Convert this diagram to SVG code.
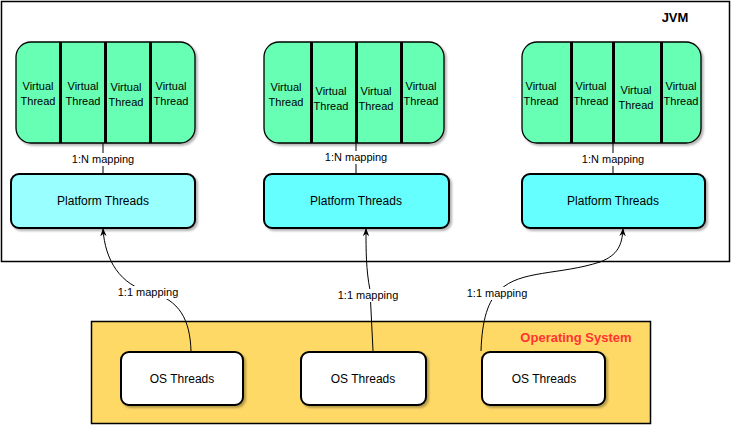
<svg xmlns="http://www.w3.org/2000/svg" width="732" height="427" viewBox="0 0 732 427">
<style>
text{font-family:"Liberation Sans",Arial,sans-serif;fill:#000;text-anchor:middle}
.vt{font-size:11px}
.vg{fill:#66FFB3;stroke:#000;stroke-width:1.3}
.dv{stroke:#000;stroke-width:3}
.pt{stroke:#000;stroke-width:2}
.os{fill:#fff;stroke:#000;stroke-width:2}
.lbl{font-size:11px}
.c{fill:none;stroke:#000;stroke-width:1}
.lb{fill:#fff}
</style>
<defs>
<marker id="ah" viewBox="0 0 10 10" refX="9" refY="5" markerWidth="8" markerHeight="8" orient="auto"><path d="M0,1 L10,5 L0,9 L3,5 Z" fill="#000"/></marker>
<filter id="sh"><feDropShadow dx="2" dy="2" stdDeviation="1.2" flood-opacity="0.3"/></filter>
</defs>
<g id="jvm"><rect x="1.5" y="1.5" width="728" height="260" fill="#fff" stroke="#000" stroke-width="1.5"/><text x="675" y="22" font-size="13" font-weight="bold">JVM</text></g>
<g id="os-system"><rect x="91.5" y="321.5" width="559" height="102" fill="#FFD966" stroke="#000" stroke-width="1.5"/><text x="576" y="342" font-size="13" font-weight="bold" style="fill:#FF3333">Operating System</text></g>
<g id="connectors">
<line class="c" x1="103" y1="143" x2="103" y2="173"/><rect class="lb" x="66" y="153" width="74" height="13"/><text class="lbl" x="103" y="163">1:N mapping</text>
<line class="c" x1="356" y1="143" x2="356" y2="173"/><rect class="lb" x="319" y="151" width="74" height="13"/><text class="lbl" x="356" y="161">1:N mapping</text>
<line class="c" x1="613" y1="143" x2="613" y2="173"/><rect class="lb" x="576" y="153" width="74" height="13"/><text class="lbl" x="613" y="163">1:N mapping</text>
<path class="c" marker-end="url(#ah)" d="M191,351 C190,320 180,300 150,292 C120,285 105,260 103,229"/>
<rect class="lb" x="110" y="286" width="76" height="13"/><text class="lbl" x="148" y="296">1:1 mapping</text>
<path class="c" marker-end="url(#ah)" d="M373,351 L370,290 C366,270 366,250 366,229"/>
<rect class="lb" x="331" y="289" width="76" height="13"/><text class="lbl" x="368" y="299">1:1 mapping</text>
<path class="c" marker-end="url(#ah)" d="M481,351 C482,320 488,300 500,290 C520,270 560,275 600,262 C618,255 622,245 623,229"/>
<rect class="lb" x="459" y="287" width="76" height="13"/><text class="lbl" x="497" y="297">1:1 mapping</text>
</g>
<g id="vgroup1"><rect class="vg" x="16" y="42" width="179" height="101" rx="15" filter="url(#sh)"/>
<line class="dv" x1="60.5" y1="42" x2="60.5" y2="143"/><line class="dv" x1="105.5" y1="42" x2="105.5" y2="143"/><line class="dv" x1="150.5" y1="42" x2="150.5" y2="143"/>
<text class="vt" x="38" y="90">Virtual</text><text class="vt" x="38" y="105">Thread</text>
<text class="vt" x="83" y="90">Virtual</text><text class="vt" x="83" y="105">Thread</text>
<text class="vt" x="126" y="91">Virtual</text><text class="vt" x="126" y="106">Thread</text>
<text class="vt" x="171" y="90">Virtual</text><text class="vt" x="171" y="105">Thread</text></g>
<g id="vgroup2"><rect class="vg" x="264" y="42" width="180" height="101" rx="15" filter="url(#sh)"/>
<line class="dv" x1="311.5" y1="42" x2="311.5" y2="143"/><line class="dv" x1="356.5" y1="42" x2="356.5" y2="143"/><line class="dv" x1="401.5" y1="42" x2="401.5" y2="143"/>
<text class="vt" x="286" y="91">Virtual</text><text class="vt" x="286" y="106">Thread</text>
<text class="vt" x="331" y="95">Virtual</text><text class="vt" x="331" y="110">Thread</text>
<text class="vt" x="376" y="95">Virtual</text><text class="vt" x="376" y="110">Thread</text>
<text class="vt" x="421" y="90">Virtual</text><text class="vt" x="421" y="105">Thread</text></g>
<g id="vgroup3"><rect class="vg" x="522" y="42" width="179" height="101" rx="15" filter="url(#sh)"/>
<line class="dv" x1="571.5" y1="42" x2="571.5" y2="143"/><line class="dv" x1="613.5" y1="42" x2="613.5" y2="143"/><line class="dv" x1="661.5" y1="42" x2="661.5" y2="143"/>
<text class="vt" x="541" y="90">Virtual</text><text class="vt" x="541" y="105">Thread</text>
<text class="vt" x="591" y="90">Virtual</text><text class="vt" x="591" y="105">Thread</text>
<text class="vt" x="636" y="94">Virtual</text><text class="vt" x="636" y="109">Thread</text>
<text class="vt" x="681" y="90">Virtual</text><text class="vt" x="681" y="105">Thread</text></g>
<g id="platform1"><rect class="pt" x="11" y="174" width="184" height="54" rx="8" fill="#99FFFF" filter="url(#sh)"/><text x="103" y="205" font-size="12">Platform Threads</text></g>
<g id="platform2"><rect class="pt" x="264" y="174" width="185" height="54" rx="8" fill="#66FFFF" filter="url(#sh)"/><text x="356" y="205" font-size="12">Platform Threads</text></g>
<g id="platform3"><rect class="pt" x="522" y="174" width="183" height="54" rx="8" fill="#66FFFF" filter="url(#sh)"/><text x="613" y="205" font-size="12">Platform Threads</text></g>
<g id="os1"><rect class="os" x="121" y="352" width="122" height="53" rx="8" filter="url(#sh)"/><text x="182" y="383" font-size="12">OS Threads</text></g>
<g id="os2"><rect class="os" x="301" y="352" width="125" height="53" rx="8" filter="url(#sh)"/><text x="363" y="383" font-size="12">OS Threads</text></g>
<g id="os3"><rect class="os" x="482" y="352" width="123" height="53" rx="8" filter="url(#sh)"/><text x="544" y="383" font-size="12">OS Threads</text></g>
</svg>
